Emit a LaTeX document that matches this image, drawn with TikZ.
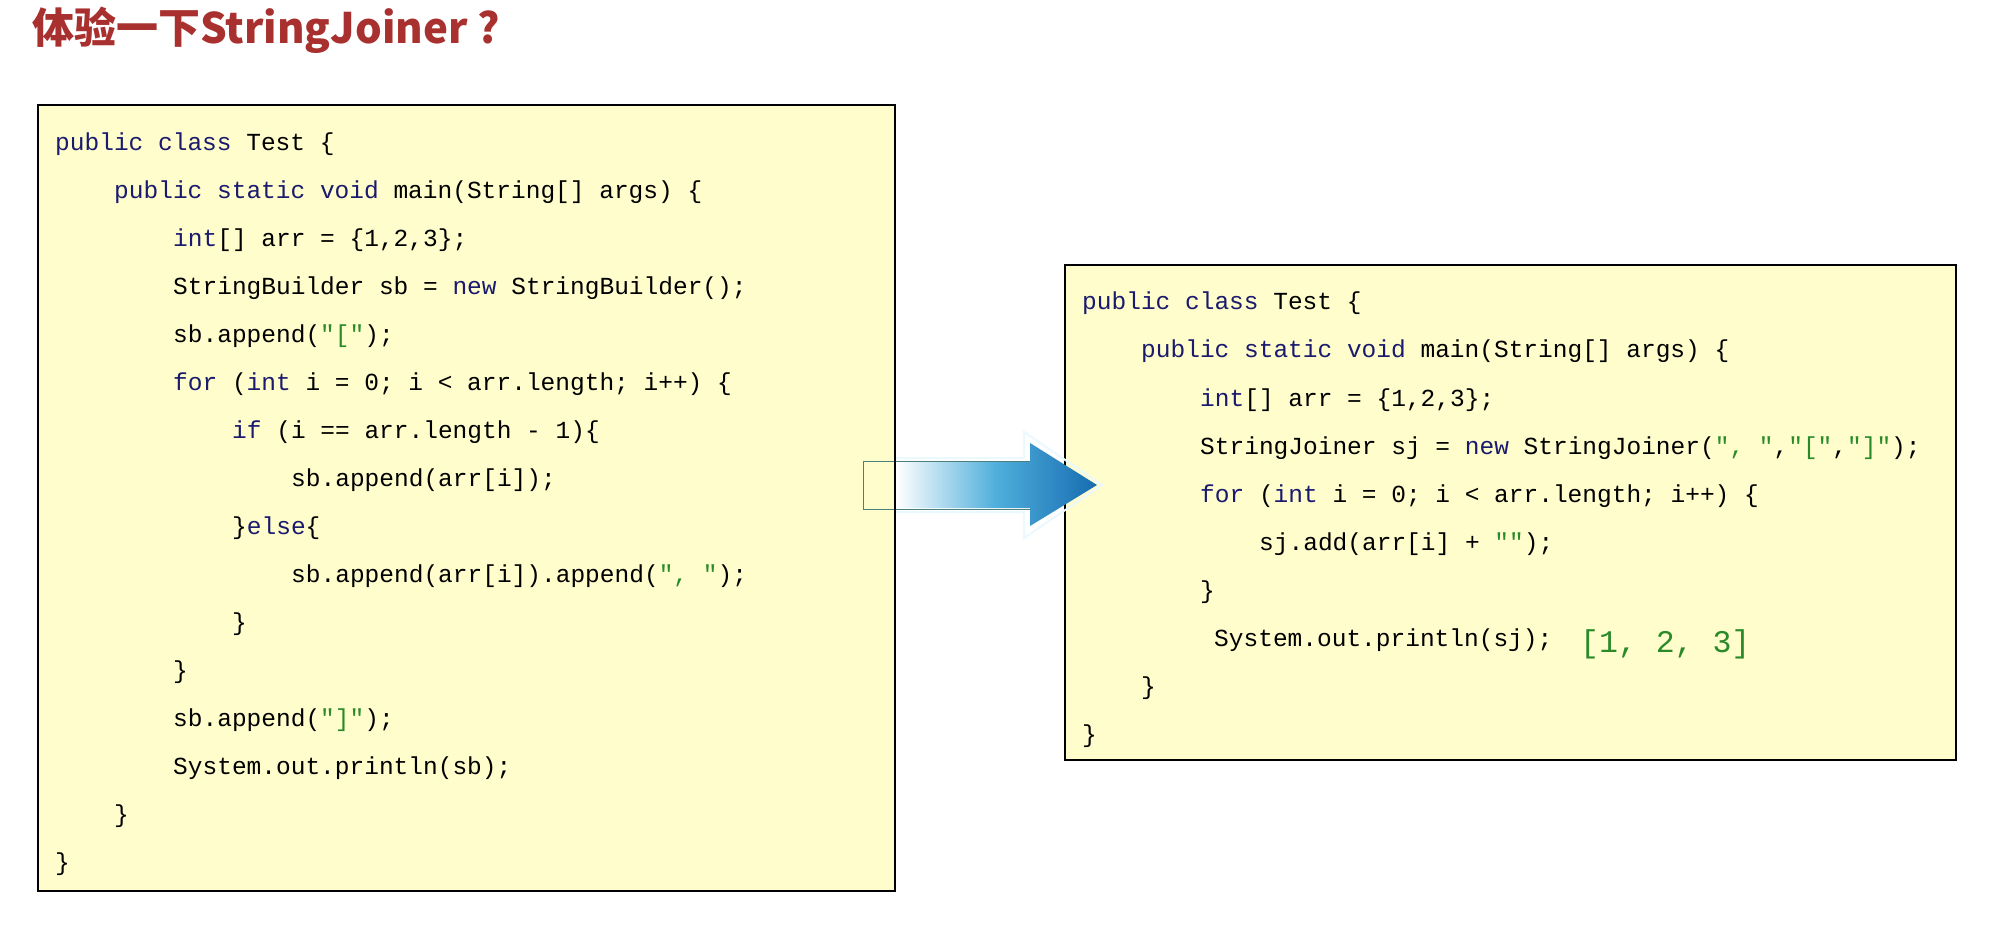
\documentclass[tikz,border=0pt]{standalone}
\usepackage{fontspec}
\setmonofont{Liberation Mono}
\newfontfamily\cjk{Noto Sans CJK SC}
\definecolor{kw}{HTML}{1A1A6E}
\definecolor{str}{HTML}{2A8A2A}
\definecolor{bg}{HTML}{FEFDCB}
\definecolor{ttl}{HTML}{A8302E}
\definecolor{arr}{HTML}{176CB0}
\definecolor{arrmid}{HTML}{4FAEDB}
\newcommand{\kw}[1]{\textcolor{kw}{#1}}
\newcommand{\st}[1]{\textcolor{str}{#1}}
\begin{document}
\begin{tikzpicture}[x=1pt,y=-1pt,
  code/.style={anchor=base west,inner sep=0pt,font=\fontsize{24.5}{28}\ttfamily},
  codebox/.style={draw=black,line width=1.6pt,fill=bg}]
\useasboundingbox[fill=white] (0,0) rectangle (2007,934);
\node[anchor=west,inner sep=0pt,text=ttl,font=\cjk\bfseries\fontsize{42}{48}\selectfont] (title) at (32,30) {体验一下StringJoiner ?};
% left box
\draw[codebox] (38,105) rectangle (895,891);
\node[code] (l1) at (55,150) {\kw{public} \kw{class} Test \{};
\node[code] (l2) at (114,198) {\kw{public} \kw{static} \kw{void} main(String[] args) \{};
\node[code] (l3) at (173,246) {\kw{int}[] arr = \{1,2,3\};};
\node[code] (l4) at (173,294) {StringBuilder sb = \kw{new} StringBuilder();};
\node[code] (l5) at (173,342) {sb.append(\st{"["});};
\node[code] (l6) at (173,390) {\kw{for} (\kw{int} i = 0; i < arr.length; i++) \{};
\node[code] (l7) at (232,438) {\kw{if} (i == arr.length - 1)\{};
\node[code] (l8) at (291,486) {sb.append(arr[i]);};
\node[code] (l9) at (232,534) {\}\kw{else}\{};
\node[code] (l10) at (291,582) {sb.append(arr[i]).append(\st{", "});};
\node[code] (l11) at (232,630) {\}};
\node[code] (l12) at (173,678) {\}};
\node[code] (l13) at (173,726) {sb.append(\st{"]"});};
\node[code] (l14) at (173,774) {System.out.println(sb);};
\node[code] (l15) at (114,822) {\}};
\node[code] (l16) at (55,870) {\}};
% right box
\draw[codebox] (1065,265) rectangle (1956,760);
\node[code] (r1) at (1082,309) {\kw{public} \kw{class} Test \{};
\node[code] (r2) at (1141,357) {\kw{public} \kw{static} \kw{void} main(String[] args) \{};
\node[code] (r3) at (1200,406) {\kw{int}[] arr = \{1,2,3\};};
\node[code] (r4) at (1200,454) {StringJoiner sj = \kw{new} StringJoiner(\st{", "},\st{"["},\st{"]"});};
\node[code] (r5) at (1200,502) {\kw{for} (\kw{int} i = 0; i < arr.length; i++) \{};
\node[code] (r6) at (1259,550) {sj.add(arr[i] + \st{""});};
\node[code] (r7) at (1200,598) {\}};
\node[code] (r8) at (1214,646) {System.out.println(sj);};
\node[code,font=\fontsize{31.5}{36}\ttfamily,text=str] (res) at (1580,652) {[1, 2, 3]};
\node[code] (r9) at (1141,694) {\}};
\node[code] (r10) at (1082,742) {\}};
% arrow
\draw[draw=teal!40!gray,line width=1pt] (863,461) rectangle (1030,509);
\draw[draw=cyan!8,line width=2pt] (896,458) -- (1024,458) -- (1024,432) -- (1102,485) -- (1024,538) -- (1024,512) -- (896,512);
\shade[left color=white,right color=arr,middle color=arrmid] (896,462) -- (1030,462) -- (1030,443) -- (1097,485) -- (1030,526) -- (1030,508) -- (896,508) -- cycle;
\draw[line width=1.6pt] (895,430) -- (895,540);
\end{tikzpicture}
\end{document}
